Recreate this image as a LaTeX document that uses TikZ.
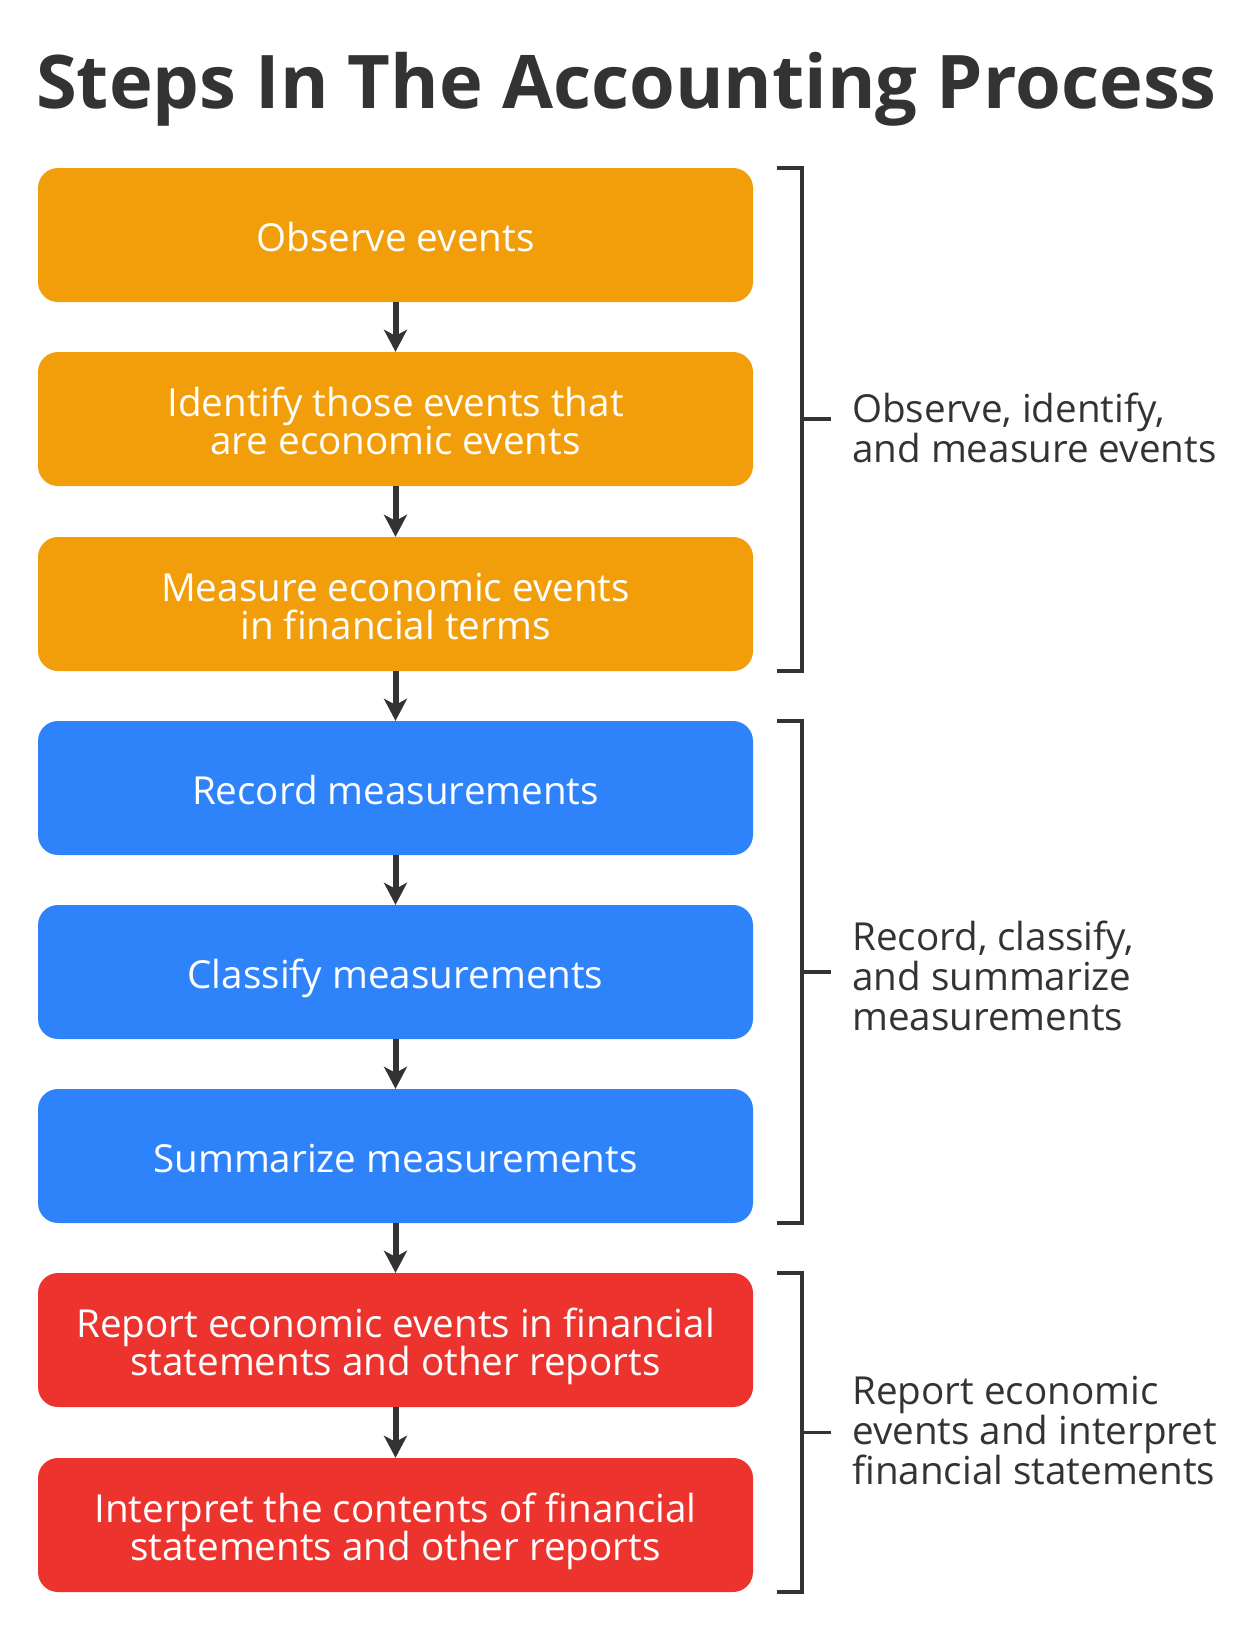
\documentclass[tikz,border=0pt]{standalone}
\usepackage{fontspec}
\setmainfont{Open Sans}[Ligatures=NoCommon]
\usetikzlibrary{arrows.meta,calc}
\definecolor{cOrange}{HTML}{F29E0A}
\definecolor{cBlue}{HTML}{2E83FB}
\definecolor{cRed}{HTML}{EC332D}
\definecolor{cInk}{HTML}{333333}
\newcommand\hiS{\rule{0pt}{43pt}}
\newcommand\loS{\rule[-10pt]{0pt}{10pt}}
\newcommand\sideS{\rule{0pt}{41pt}}
\newcommand\tightlines{\lineskiplimit=-100pt\relax\lineskip=0pt\relax}
\tikzset{
  stepbox/.style={rounded corners=20pt, minimum width=715pt, minimum height=134pt,
    inner sep=0pt, text=white, align=center,
    font=\fontsize{38.6}{38}\selectfont\tightlines},
  flow/.style={draw=cInk, line width=6pt, -{Stealth[length=22pt,width=23pt,inset=6pt]}},
  bracket/.style={draw=cInk, line width=3.5pt},
  sidetext/.style={anchor=north west, align=left, text=cInk, inner sep=0pt,
    font=\fontsize{38.6}{40}\selectfont\tightlines},
}
\begin{document}
\begin{tikzpicture}[x=1pt,y=-1pt]
\useasboundingbox (0,0) rectangle (1251,1628);
\node[anchor=base west, inner sep=0pt, text=cInk, font=\fontsize{74}{74}\bfseries\selectfont] (title) at (36,108) {Steps In The Accounting Process};

\node[stepbox, fill=cOrange] (b1) at (395.5,235) {\hiS Observe events\loS};
\node[stepbox, fill=cOrange] (b2) at (395.5,419) {\hiS Identify those events that\\are economic events\loS};
\node[stepbox, fill=cOrange] (b3) at (395.5,604) {\hiS Measure economic events\\in financial terms\loS};
\node[stepbox, fill=cBlue] (b4) at (395.5,788) {\hiS Record measurements\loS};
\node[stepbox, fill=cBlue] (b5) at (395.5,972) {\hiS Classify measurements\loS};
\node[stepbox, fill=cBlue] (b6) at (395.5,1156) {\hiS Summarize measurements\loS};
\node[stepbox, fill=cRed] (b7) at (395.5,1340) {\hiS Report economic events in financial\\statements and other reports\loS};
\node[stepbox, fill=cRed] (b8) at (395.5,1525) {\hiS Interpret the contents of financial\\statements and other reports\loS};

\foreach \a/\b in {b1/b2,b2/b3,b3/b4,b4/b5,b5/b6,b6/b7,b7/b8}
  \draw[flow] (\a.south) -- (\b.north);

% brackets
\draw[bracket] ([xshift=24pt]b1.north east) -- ([xshift=49pt]b1.north east) -- ([xshift=49pt]b3.south east) -- ([xshift=24pt]b3.south east);
\coordinate (m1) at ([xshift=49pt]b2.east);
\draw[bracket] (m1) -- ++(29,0);
\draw[bracket] ([xshift=24pt]b4.north east) -- ([xshift=49pt]b4.north east) -- ([xshift=49pt]b6.south east) -- ([xshift=24pt]b6.south east);
\coordinate (m2) at ([xshift=49pt]b5.east);
\draw[bracket] (m2) -- ++(29,0);
\draw[bracket] ([xshift=24pt]b7.north east) -- ([xshift=49pt]b7.north east) -- ([xshift=49pt]b8.south east) -- ([xshift=24pt]b8.south east);
\coordinate (m3) at ($(b7.east)!0.5!(b8.east)+(49,0)$);
\draw[bracket] (m3) -- ++(29,0);

\node[sidetext] (s1) at (852,381) {\sideS Observe, identify,\\and measure events};
\node[sidetext] (s2) at (852,909.5) {\sideS Record, classify,\\and summarize\\measurements};
\node[sidetext] (s3) at (852,1363.5) {\sideS Report economic\\events and interpret\\financial statements};
\end{tikzpicture}
\end{document}
